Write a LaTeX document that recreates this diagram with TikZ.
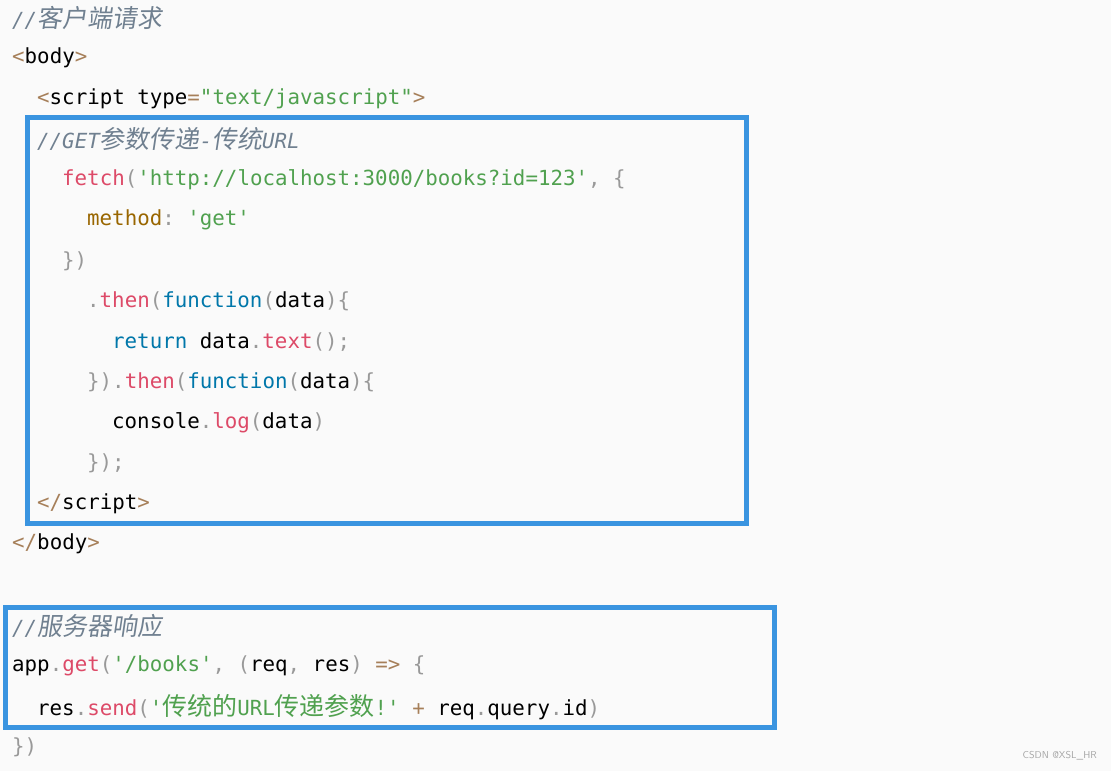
\documentclass[tikz,border=0pt]{standalone}
\usepackage{fontspec}
\setmonofont{DejaVu Sans Mono}
\newfontfamily\cjk[Scale=1.2]{Noto Sans CJK SC}
\newfontfamily\cjki[Scale=1.2,FakeSlant=0.15]{Noto Sans CJK SC}
\definecolor{bgc}{HTML}{FAFAFA}
\definecolor{cmt}{HTML}{708090}
\definecolor{tagc}{HTML}{A67F59}
\definecolor{strc}{HTML}{50A14F}
\definecolor{kwc}{HTML}{0077AA}
\definecolor{fnc}{HTML}{DD4A68}
\definecolor{prc}{HTML}{996600}
\definecolor{pun}{HTML}{999999}
\definecolor{boxc}{HTML}{3A94E0}
\newcommand\cC[1]{\textcolor{cmt}{\itshape #1}}
\newcommand\cT[1]{\textcolor{tagc}{#1}}
\newcommand\cS[1]{\textcolor{strc}{#1}}
\newcommand\cK[1]{\textcolor{kwc}{#1}}
\newcommand\cF[1]{\textcolor{fnc}{#1}}
\newcommand\cP[1]{\textcolor{prc}{#1}}
\newcommand\cU[1]{\textcolor{pun}{#1}}
\begin{document}
\begin{tikzpicture}[x=1pt,y=-1pt,
  code/.style={anchor=west,inner sep=0pt,font=\ttfamily\fontsize{20.8}{24}\selectfont},
  hl/.style={draw=boxc,line width=5pt}]
\useasboundingbox (0,0) rectangle (1111,771);
\fill[bgc] (0,0) rectangle (1111,771);
\node[code] (l1) at (12,18) {\cC{//{\cjki 客户端请求}}};
\node[code] (l2) at (12,58) {\cT{<}body\cT{>}};
\node[code] (l3) at (37,99) {\cT{<}script type\cT{=}\cS{"text/javascript"}\cT{>}};
\node[code] (l4) at (37,139) {\cC{//GET{\cjki 参数传递}-{\cjki 传统}URL}};
\node[code] (l5) at (62,180) {\cF{fetch}\cU{(}\cS{'http://localhost:3000/books?id=123'}\cU{, \{}};
\node[code] (l6) at (87,220) {\cP{method}\cU{:} \cS{'get'}};
\node[code] (l7) at (62,261) {\cU{\})}};
\node[code] (l8) at (87,301) {\cU{.}\cF{then}\cU{(}\cK{function}\cU{(}data\cU{)\{}};
\node[code] (l9) at (112,342) {\cK{return} data\cU{.}\cF{text}\cU{();}};
\node[code] (l10) at (87,382) {\cU{\}).}\cF{then}\cU{(}\cK{function}\cU{(}data\cU{)\{}};
\node[code] (l11) at (112,423) {console\cU{.}\cF{log}\cU{(}data\cU{)}};
\node[code] (l12) at (87,463) {\cU{\});}};
\node[code] (l13) at (37,504) {\cT{</}script\cT{>}};
\node[code] (l14) at (12,544) {\cT{</}body\cT{>}};
\node[code] (l15) at (12,626) {\cC{//{\cjki 服务器响应}}};
\node[code] (l16) at (12,666) {app\cU{.}\cF{get}\cU{(}\cS{'/books'}\cU{, (}req\cU{,} res\cU{)} \cT{=>} \cU{\{}};
\node[code] (l17) at (37,707) {res\cU{.}\cF{send}\cU{(}\cS{'{\cjk 传统的}URL{\cjk 传递参数}!'} \cT{+} req\cU{.}query\cU{.}id\cU{)}};
\node[code] (l18) at (12,747) {\cU{\})}};
\draw[hl] (27,117) rectangle (746,523);
\draw[hl] (5,607) rectangle (774,727);
\node[anchor=east,inner sep=0pt,text=gray!70,font=\sffamily\fontsize{10}{12}\selectfont] (wm) at (1097,756) {CSDN @XSL\_HR};
\end{tikzpicture}
\end{document}
